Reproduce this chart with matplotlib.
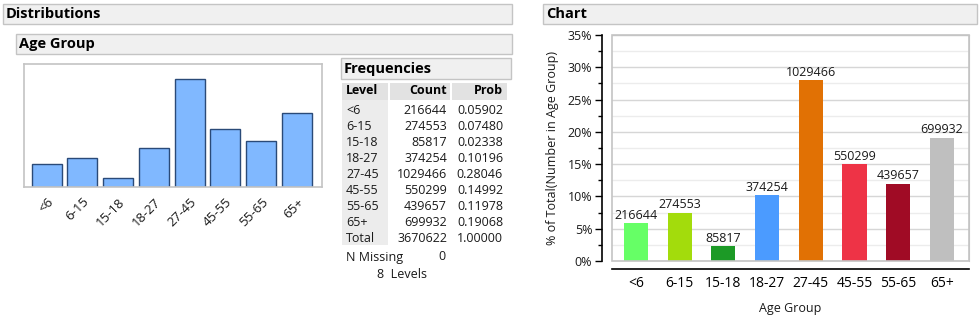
import matplotlib
matplotlib.use('Agg')
import matplotlib.pyplot as plt
from matplotlib.patches import Rectangle
from matplotlib.ticker import MultipleLocator, FuncFormatter

# CONSTANTS
W, H = 980, 321
LEVELS = ['<6', '6-15', '15-18', '18-27', '27-45', '45-55', '55-65', '65+']
COUNTS = [216644, 274553, 85817, 374254, 1029466, 550299, 439657, 699932]
PROBS = [0.05902, 0.07480, 0.02338, 0.10196, 0.28046, 0.14992, 0.11978, 0.19068]
TOTAL_COUNT = 3670622
N_MISSING = 0
BAR_COLORS = ['#66ff66', '#a3dc0c', '#1c9a26', '#4b9bff', '#e17104', '#ee3346', '#a00b25', '#bfbfbf']

plt.rcParams['font.family'] = ['Open Sans', 'DejaVu Sans']
TXT = '#1a1a1a'


def fbox(l, t, r, b):
    """Pixel box (from top-left) to figure fraction [x, y, w, h]"""
    return [l / W, 1 - b / H, (r - l) / W, (b - t) / H]


def header(fig, l, t, r, b, label, size=10.5):
    x, y, w, h = fbox(l, t, r, b)
    fig.patches.append(Rectangle((x, y), w, h, transform=fig.transFigure,
                                 facecolor='#f0f0f0', edgecolor='#c4c4c4', lw=1))
    fig.text((l + 3) / W, 1 - (t + b) / 2 / H, label, fontsize=size, fontweight='bold',
             va='center', ha='left', color='black')


def cell(fig, l, t, r, b, color):
    x, y, w, h = fbox(l, t, r, b)
    fig.patches.append(Rectangle((x, y), w, h, transform=fig.transFigure,
                                 facecolor=color, edgecolor='none'))


fig = plt.figure(figsize=(W / 100, H / 100), dpi=100)
fig.patch.set_facecolor('white')

# Headers
header(fig, 3, 4, 512, 24, 'Distributions')
header(fig, 16, 34, 512, 54, 'Age Group')
header(fig, 341, 58, 511, 79, 'Frequencies')
header(fig, 543, 4, 977, 24, 'Chart')

# Histogram
ax1 = fig.add_axes(fbox(24, 64, 322, 187))
x = list(range(len(LEVELS)))
ax1.bar(x, PROBS, width=0.84, color='#80b8ff', edgecolor='#2a4a78', linewidth=1)
ax1.set_xlim(-0.63, 7.70)
ax1.set_ylim(0, 0.3185)
ax1.set_yticks([])
ax1.set_xticks(x)
ax1.set_xticklabels(LEVELS, rotation=45, ha='right', va='top', rotation_mode='anchor',
                    fontsize=9.5, color=TXT)
ax1.tick_params(axis='x', length=0, pad=6)
for s in ax1.spines.values():
    s.set_color('#c4c4c4')
    s.set_linewidth(1.2)

# Frequencies table
cell(fig, 342, 83, 388, 100, '#e2e2e2')
cell(fig, 390, 83, 450, 100, '#e2e2e2')
cell(fig, 452, 83, 507, 100, '#e2e2e2')
cell(fig, 342, 100, 388, 245, '#ececec')
hy = 91
fig.text(346 / W, 1 - hy / H, 'Level', fontsize=9, fontweight='bold', va='center', ha='left')
fig.text(447 / W, 1 - hy / H, 'Count', fontsize=9, fontweight='bold', va='center', ha='right')
fig.text(503 / W, 1 - hy / H, 'Prob', fontsize=9, fontweight='bold', va='center', ha='right')
rows = [(lv, str(c), '%.5f' % p) for lv, c, p in zip(LEVELS, COUNTS, PROBS)]
rows.append(('Total', str(TOTAL_COUNT), '%.5f' % sum(PROBS)))
for i, (lv, c, p) in enumerate(rows):
    ry = 1 - (111 + i * 15.9) / H
    fig.text(346 / W, ry, lv, fontsize=9, va='center', ha='left', color=TXT)
    fig.text(447 / W, ry, c, fontsize=9, va='center', ha='right', color=TXT)
    fig.text(503 / W, ry, p, fontsize=9, va='center', ha='right', color=TXT)
fig.text(346 / W, 1 - 257 / H, 'N Missing', fontsize=9, va='center', ha='left', color=TXT)
fig.text(445 / W, 1 - 257 / H, str(N_MISSING), fontsize=9, va='center', ha='right', color=TXT)
fig.text(377 / W, 1 - 274 / H, '%d  Levels' % len(LEVELS), fontsize=9, va='center', ha='left', color=TXT)

# Chart
ax2 = fig.add_axes(fbox(612, 35, 969, 261))
pct = [p * 100 for p in PROBS]
bars = ax2.bar(x, pct, width=0.55, color=BAR_COLORS, zorder=3)
ax2.bar_label(bars, labels=[str(c) for c in COUNTS], padding=1, fontsize=9, color=TXT)
ax2.set_xlim(-0.55, 7.62)
ax2.set_ylim(0, 35)
ax2.yaxis.set_major_locator(MultipleLocator(5))
ax2.yaxis.set_minor_locator(MultipleLocator(2.5))
ax2.yaxis.set_major_formatter(FuncFormatter(lambda v, pos: '%d%%' % v))
ax2.grid(axis='y', which='major', color='#d6d6d6', lw=1, zorder=0)
ax2.grid(axis='y', which='minor', color='#ececec', lw=1, zorder=0)
ax2.set_axisbelow(True)
ax2.set_xticks(x)
ax2.set_xticklabels(LEVELS, fontsize=9, color=TXT)
ax2.tick_params(axis='x', length=0, pad=5)
ax2.tick_params(axis='y', which='major', length=5, width=1, labelsize=9, labelcolor=TXT, pad=2)
ax2.tick_params(axis='y', which='minor', length=3, width=1)
ax2.spines['left'].set_position(('outward', 7.2))
ax2.spines['bottom'].set_position(('outward', 5.8))
ax2.spines['left'].set_color('black')
ax2.spines['bottom'].set_color('black')
ax2.spines['left'].set_linewidth(1.2)
ax2.spines['bottom'].set_linewidth(1.2)
ax2.spines['top'].set_color('#c4c4c4')
ax2.spines['right'].set_color('#c4c4c4')
ax2.add_patch(Rectangle((0, 0), 1, 1, transform=ax2.transAxes, fill=False,
                        edgecolor='#c4c4c4', lw=1.2, clip_on=False, zorder=4))
ax2.set_xlabel('Age Group', fontsize=9, color=TXT, labelpad=8)
ax2.set_ylabel('% of Total(Number in Age Group)', fontsize=9, color=TXT, labelpad=6)

fig.savefig('out.png', dpi=100)
